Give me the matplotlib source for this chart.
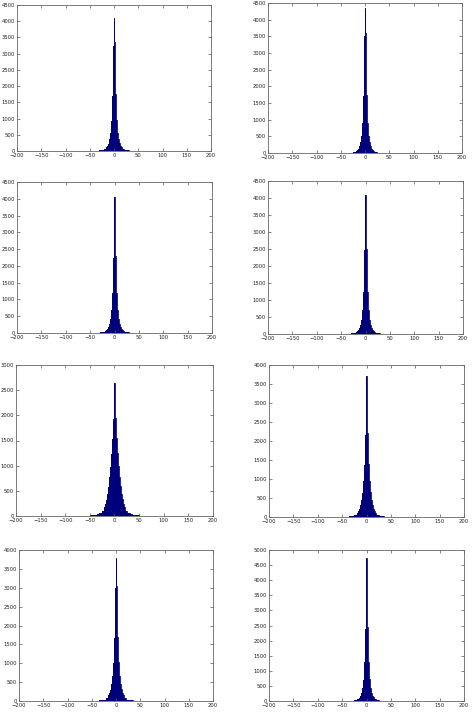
import matplotlib
matplotlib.use("Agg")
import matplotlib.pyplot as plt
import numpy as np

# histogram bins: unit-wide bins around zero, 5-wide bins in the tails
bin_centers = list(range(-20, 21))
tail_centers = [-78, -73, -68, -63, -58, -53, -48, -43, -38, -33, -28, -23,
                23, 28, 33, 38, 43, 48, 53, 58, 63, 68, 73, 78]

counts_a = [48, 56, 65, 77, 90, 108, 128, 153, 188, 230, 285, 355, 445, 565, 720, 940, 1230, 1700, 2350, 3250,
            4100, 3350, 2450, 1750, 1250, 950, 730, 570, 450, 360, 290, 235, 190, 155, 130, 110, 92, 78, 66, 57, 49]
counts_b = [40, 47, 55, 65, 77, 92, 110, 133, 162, 200, 250, 318, 405, 515, 670, 890, 1230, 1720, 2450, 3500,
            4350, 3600, 2500, 1750, 1250, 900, 680, 520, 410, 320, 255, 205, 165, 135, 112, 93, 78, 66, 56, 48, 41]
counts_c = [46, 54, 63, 74, 87, 104, 124, 150, 182, 222, 276, 340, 428, 545, 690, 890, 1190, 1620, 2250, 3150,
            4050, 3100, 2300, 1650, 1200, 900, 700, 550, 430, 345, 280, 225, 185, 152, 126, 105, 88, 75, 64, 55, 47]
counts_d = [42, 49, 58, 68, 81, 97, 116, 140, 172, 212, 265, 330, 420, 535, 695, 920, 1240, 1730, 2480, 3450,
            4100, 3500, 2500, 1750, 1250, 930, 700, 540, 425, 335, 270, 215, 175, 143, 118, 98, 82, 69, 59, 50, 43]
counts_e = [176, 205, 240, 280, 325, 375, 432, 500, 580, 670, 770, 870, 980, 1100, 1230, 1380, 1530, 1720, 1920, 2150,
            2650, 2200, 1950, 1750, 1550, 1400, 1250, 1120, 1000, 880, 780, 680, 590, 510, 440, 380, 330, 285, 245, 210, 180]
counts_f = [76, 89, 104, 123, 148, 178, 212, 255, 305, 370, 445, 530, 640, 780, 935, 1130, 1380, 1720, 2150, 2750,
            3700, 2800, 2200, 1750, 1400, 1150, 950, 790, 650, 540, 450, 375, 310, 260, 215, 180, 150, 125, 105, 90, 77]
counts_g = [67, 78, 90, 106, 125, 148, 175, 208, 250, 300, 365, 440, 530, 650, 810, 1000, 1280, 1680, 2250, 3000,
            3800, 3050, 2300, 1700, 1300, 1020, 820, 660, 540, 445, 370, 305, 255, 212, 178, 150, 127, 108, 92, 79, 68]
counts_h = [40, 47, 56, 66, 79, 96, 115, 140, 172, 212, 266, 335, 425, 545, 710, 940, 1280, 1770, 2400, 3650,
            4750, 3700, 2450, 1800, 1300, 950, 720, 550, 430, 340, 270, 215, 175, 142, 117, 97, 80, 67, 57, 48, 41]

tail_a = [2, 2, 3, 3, 4, 4, 5, 6, 8, 11, 17, 30, 28, 16, 11, 8, 6, 5, 4, 4, 3, 3, 2, 2]
tail_b = [2, 2, 2, 3, 3, 4, 5, 6, 7, 10, 15, 26, 25, 15, 10, 7, 6, 5, 4, 3, 3, 2, 2, 2]
tail_c = [2, 2, 3, 3, 4, 4, 5, 6, 8, 11, 16, 29, 28, 16, 11, 8, 6, 5, 4, 3, 3, 2, 2, 2]
tail_d = [2, 2, 2, 3, 3, 4, 5, 6, 7, 10, 15, 27, 26, 15, 10, 7, 6, 5, 4, 3, 3, 2, 2, 2]
tail_e = [3, 4, 5, 6, 7, 9, 11, 15, 22, 35, 55, 100, 98, 54, 34, 22, 15, 11, 9, 7, 6, 5, 4, 3]
tail_f = [3, 3, 4, 4, 5, 6, 7, 9, 12, 17, 27, 45, 44, 26, 17, 12, 9, 7, 6, 5, 4, 4, 3, 3]
tail_g = [3, 3, 3, 4, 5, 5, 6, 8, 10, 14, 22, 38, 37, 21, 14, 10, 8, 6, 5, 5, 4, 3, 3, 3]
tail_h = [2, 2, 2, 3, 3, 4, 5, 6, 7, 10, 15, 26, 25, 15, 10, 7, 6, 5, 4, 3, 3, 2, 2, 2]

y_max = [4500, 4500, 4500, 4500, 3000, 4000, 4000, 5000]

W, H = 474, 714
# axes boxes in pixels: left, right, top, bottom
boxes = [(17, 211, 5, 151), (268, 462, 3, 153),
         (17, 212, 182, 333), (268, 463, 181, 334),
         (16, 213, 365, 516), (269, 464, 365, 517),
         (19, 213, 550, 701), (269, 464, 550, 701)]

all_counts = [counts_a, counts_b, counts_c, counts_d, counts_e, counts_f, counts_g, counts_h]
all_tails = [tail_a, tail_b, tail_c, tail_d, tail_e, tail_f, tail_g, tail_h]

# bin edges from the bin centres (width 5 in the tails, 1 in the core)
left_tc = np.array(tail_centers[:12])
right_tc = np.array(tail_centers[12:])
edges = np.concatenate([left_tc - 2.5, np.array(bin_centers) - 0.5,
                        [bin_centers[-1] + 0.5], right_tc + 2.5])

fig = plt.figure(figsize=(W / 100, H / 100), dpi=100)
fig.patch.set_facecolor('white')

bar_color = '#00007c'

for counts, tail, ymax, (x0, x1, y0, y1) in zip(all_counts, all_tails, y_max, boxes):
    ax = fig.add_axes([x0 / W, 1 - y1 / H, (x1 - x0) / W, (y1 - y0) / H])
    values = list(tail[:12]) + list(counts) + list(tail[12:])
    ax.stairs(values, edges, fill=True, color=bar_color, linewidth=0)
    ax.stairs(values, edges, color='#000070', linewidth=0.6)
    ax.set_xlim(-200, 200)
    ax.set_ylim(0, ymax)
    ax.set_xticks(range(-200, 201, 50))
    ax.set_yticks(range(0, ymax + 1, 500))
    ax.tick_params(direction='in', top=True, right=True, length=2, width=0.5,
                   color='#555555', labelcolor='#222222', labelsize=3.8, pad=1.5)
    for s in ax.spines.values():
        s.set_color('#666666')
        s.set_linewidth(0.6)

fig.savefig('out.png', dpi=100, facecolor='white')
